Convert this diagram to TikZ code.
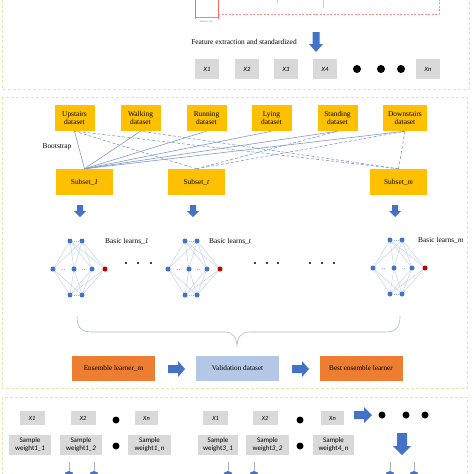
\documentclass[tikz,border=0pt]{standalone}
\usepackage{fontspec}
\setmainfont{Liberation Serif}
\newfontfamily\sansf{Carlito}
\definecolor{gold}{HTML}{FFC000}
\definecolor{orng}{HTML}{ED7D31}
\definecolor{lblue}{HTML}{B4C7E7}
\definecolor{gbox}{HTML}{D9D9D9}
\definecolor{ablue}{HTML}{4472C4}
\definecolor{nred}{HTML}{C00000}
\definecolor{dsline}{HTML}{7F9BC8}
\definecolor{bordc}{HTML}{EDE3A8}
\definecolor{netc}{HTML}{C8D4EA}
\definecolor{bracec}{HTML}{A9B8D0}
\pgfdeclarelayer{bg}
\pgfsetlayers{bg,main}
\tikzset{
  ds/.style={fill=gold, minimum width=40pt, minimum height=26pt, inner sep=0pt, align=center, font=\fontsize{7.4}{8.4}\selectfont},
  sub/.style={fill=gold, minimum width=57pt, minimum height=26pt, inner sep=0pt, font=\fontsize{7.4}{8.4}\selectfont},
  ens/.style={minimum width=83pt, minimum height=25pt, inner sep=0pt, font=\fontsize{7.2}{8.2}\selectfont},
  xbox/.style={fill=gbox, minimum width=24pt, minimum height=20pt, inner sep=0pt, font=\sansf\itshape\fontsize{6.5}{7}\selectfont},
  xsbox/.style={fill=gbox, minimum width=25pt, minimum height=14pt, inner sep=0pt, font=\sansf\itshape\fontsize{6.3}{7}\selectfont},
  swbox/.style={fill=gbox, minimum width=42pt, minimum height=20pt, inner sep=0pt, align=center, font=\sansf\fontsize{7}{7.8}\selectfont},
  bdot/.style={circle, fill=black, minimum size=#1, inner sep=0pt},
  nd/.style={circle, fill=ablue, minimum size=5pt, inner sep=0pt},
  netline/.style={draw=netc, line width=0.5pt},
  netdash/.style={draw=ablue!50, line width=0.4pt, dash pattern=on 1.2pt off 1pt, shorten >=#1, shorten <=#1},
  solidl/.style={draw=dsline, line width=0.6pt},
  dashl/.style={draw=dsline, line width=0.6pt, dash pattern=on 3pt off 2pt},
  bord/.style={draw=bordc, line width=0.8pt, dash pattern=on 3pt off 2pt},
  lbl/.style={inner sep=0pt, font=\fontsize{7.4}{8.4}\selectfont},
  pics/darrow/.style n args={4}{code={\fill[ablue] (-#2,0) -- (#2,0) -- (#2,#1-#4) -- (#3,#1-#4) -- (0,#1) -- (-#3,#1-#4) -- (-#2,#1-#4) -- cycle;}},
  pics/rarrow/.style n args={4}{code={\fill[ablue] (0,-#2) -- (#1-#4,-#2) -- (#1-#4,-#3) -- (#1,0) -- (#1-#4,#3) -- (#1-#4,#2) -- (0,#2) -- cycle;}}
}
\newcommand\drawnet[3]{%
\begin{scope}[shift={(#2,#3)}]
\node[nd] (#1t1) at (17,-28) {};
\node[nd] (#1t2) at (29,-28) {};
\node[nd] (#1m1) at (0,0) {};
\node[nd] (#1m2) at (21,0) {};
\node[nd] (#1m3) at (39,0) {};
\node[nd, fill=nred] (#1m4) at (52,0) {};
\node[nd] (#1b1) at (17,26) {};
\node[nd] (#1b2) at (29,26) {};
\begin{pgfonlayer}{bg}
\foreach \a in {m1,m2,m3,m4}{\foreach \b in {t1,t2,b1,b2}{\draw[netline] (#1\a.center) -- (#1\b.center);}}
\end{pgfonlayer}
\draw[netdash=1pt] (#1t1) -- (#1t2);
\draw[netdash=1pt] (#1b1) -- (#1b2);
\draw[netdash=6pt] (#1m1) -- (#1m2);
\draw[netdash=5pt] (#1m2) -- (#1m3);
\end{scope}}
\begin{document}
\begin{tikzpicture}[x=1pt, y=-1pt]
\begin{pgfonlayer}{bg}
\fill[white] (0,0) rectangle (474,474);
\end{pgfonlayer}
\clip (0,0) rectangle (474,474);
% section borders
\draw[bord] (2,-10) rectangle (469,89);
\draw[bord] (2,97) rectangle (467,388);
\draw[bord] (2,397) rectangle (467,490);
% top red region
\draw[red!45, line width=0.5pt, dash pattern=on 2pt off 1.5pt] (218,14) -- (439,14) -- (439,-5);
\draw[red!60, line width=0.6pt] (195,-5) -- (195,19);
\draw[red!60, line width=0.6pt] (218,-5) -- (218,19);
\draw[red!50, line width=0.3pt] (195,17) -- (218,17);
\node[inner sep=0pt, font=\fontsize{2.5}{3}\selectfont, text=gray] (ws) at (206.5,22) {Window size};
\draw[gray!40, line width=0.5pt] (277,-2) -- (277,3);
\draw[gold!70, line width=0.5pt] (323,-2) -- (323,8);
% feature extraction
\node[lbl] (fe) at (244,42) {Feature extraction and standardized};
\pic at (316,32) {darrow={20}{3.5}{7}{8}};
\node[xbox] (x1) at (207,69) {X1};
\node[xbox] (x2) at (247,69) {X2};
\node[xbox] (x3) at (286,69) {X3};
\node[xbox] (x4) at (325,69) {X4};
\node[bdot=8pt] (d1) at (357,69) {};
\node[bdot=8pt] (d2) at (381,69) {};
\node[bdot=8pt] (d3) at (401,69) {};
\node[xbox] (xn) at (428,69) {Xn};
% datasets
\node[ds] (ups) at (74.5,118) {Upstairs\\dataset};
\node[ds] (walk) at (140.5,118) {Walking\\dataset};
\node[ds] (run) at (206.5,118) {Running\\dataset};
\node[ds] (lie) at (271.5,118) {Lying\\dataset};
\node[ds] (std) at (337.5,118) {Standing\\dataset};
\node[ds, minimum width=44pt] (dwn) at (405,118) {Downstairs\\dataset};
\node[lbl] (boot) at (57,147) {Bootstrap};
\node[sub] (s1) at (84.5,182) {Subset\_\textit{1}};
\node[sub] (st) at (196.5,182) {Subset\_\textit{t}};
\node[sub] (sm) at (398.5,182) {Subset\_\textit{m}};
\foreach \d in {ups,walk,run,lie,std,dwn}{\draw[solidl] (s1.north) -- (\d.south);}
\foreach \d in {ups,std,dwn}{\draw[dashl] (st.north) -- (\d.south);}
\foreach \d in {ups,walk,dwn}{\draw[dashl] (sm.north) -- (\d.south);}
\pic at (80,205) {darrow={12}{3}{6}{6}};
\pic at (193,205) {darrow={12}{3}{6}{6}};
\pic at (395,205) {darrow={12}{3}{6}{6}};
% networks
\drawnet{na}{53}{269}
\drawnet{nb}{168}{269}
\drawnet{nc}{373}{268}
\node[lbl, anchor=west] (bl1) at (105,241) {Basic learns\_\textit{1}};
\node[lbl, anchor=west] (blt) at (209,241) {Basic learns\_\textit{t}};
\node[lbl, anchor=west] (blm) at (418,240) {Basic learns\_\textit{m}};
\foreach \x [count=\i] in {126,138,151,255,267,278,310,322,334}{\node[bdot=2.2pt] (sd\i) at (\x,263) {};}
% brace
\draw[bracec, line width=0.6pt] (77,316) .. controls (77,326) and (80,332) .. (92,332) -- (225,332) .. controls (233,332) and (237,338) .. (237,347) .. controls (237,338) and (241,332) .. (249,332) -- (385,332) .. controls (397,332) and (400,326) .. (400,316);
% ensemble row
\node[ens, fill=orng] (ens) at (113.5,368.5) {Ensemble learner\_m};
\node[ens, fill=lblue] (val) at (237.5,368.5) {Validation dataset};
\node[ens, fill=orng] (best) at (361,368.5) {Best ensemble learner};
\pic at (168,369) {rarrow={17}{4}{8}{7}};
\pic at (292,369) {rarrow={17}{4}{8}{7}};
% section 3
\node[xsbox] (y1) at (32,418) {X1};
\node[xsbox] (y2) at (83,418) {X2};
\node[xsbox, minimum width=23pt] (yn) at (146.5,418) {Xn};
\node[xsbox] (z1) at (215.5,418) {X1};
\node[xsbox] (z2) at (265,418) {X2};
\node[xsbox, minimum width=23pt] (zn) at (332.5,418) {Xn};
\node[bdot=7pt] (e1) at (116,420) {};
\node[bdot=7pt] (e2) at (116,446) {};
\node[bdot=7pt] (e3) at (300,420) {};
\node[bdot=7pt] (e4) at (300,446) {};
\node[swbox] (w11) at (30,445) {Sample\\weight\textit{1\_1}};
\node[swbox] (w12) at (81,445) {Sample\\weight\textit{1\_2}};
\node[swbox, minimum width=43pt] (w1n) at (149.5,445) {Sample\\weight\textit{1\_n}};
\node[swbox, minimum width=40pt] (w31) at (218,445) {Sample\\weight\textit{3\_1}};
\node[swbox, minimum width=43pt] (w32) at (267.5,445) {Sample\\weight\textit{3\_2}};
\node[swbox, minimum width=41pt] (w4n) at (333.5,445) {Sample\\weight\textit{4\_n}};
\pic at (354,415) {rarrow={18}{4}{8}{8}};
\node[bdot=7pt] (f1) at (382,415) {};
\node[bdot=7pt] (f2) at (406,415) {};
\node[bdot=7pt] (f3) at (425,415) {};
\pic at (402,433) {darrow={22}{5}{9}{9}};
\foreach \x [count=\i] in {69,94,228,254,390,414}{
  \node[circle, fill=ablue, minimum size=10pt, inner sep=0pt] (c\i) at (\x,476) {};
  \coordinate (ct\i) at (\x,462);
  \draw[gray!60, line width=0.4pt] (ct\i) -- (c\i.north);
}
\end{tikzpicture}
\end{document}
